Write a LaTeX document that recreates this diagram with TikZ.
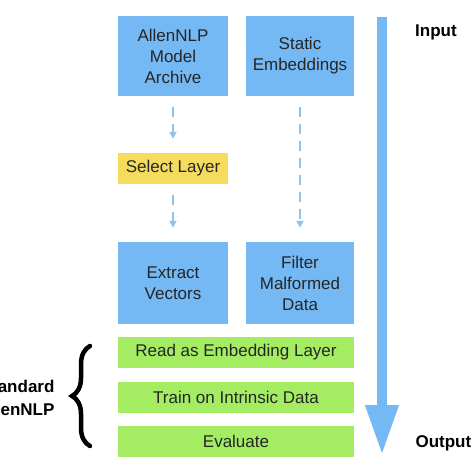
\documentclass[tikz,border=0pt]{standalone}
\usepackage{fontspec}
\setmainfont{Liberation Sans}
\usetikzlibrary{arrows.meta,decorations.pathreplacing}
\definecolor{boxblue}{HTML}{74B8F4}
\definecolor{boxyellow}{HTML}{F5DC5C}
\definecolor{boxgreen}{HTML}{A4EC62}
\definecolor{dashblue}{HTML}{8EC4EE}

\begin{document}
\begin{tikzpicture}[x=1pt, y=-1pt,
  every node/.style = {align=center, font=\fontsize{17}{21}\selectfont, text=black!85},
  stage/.style = {fill=boxblue, inner sep=0pt, minimum height=80pt},
  pick/.style = {fill=boxyellow, inner sep=0pt, minimum width=110pt, minimum height=31pt},
  stdstep/.style = {fill=boxgreen, inner sep=0pt, minimum width=236pt, minimum height=31pt},
  flow/.style = {dashblue, line width=1.8pt, dash pattern=on 10pt off 7pt,
    -{Triangle[width=7pt,length=7pt]}, shorten <=11pt, shorten >=14pt},
  tag/.style = {font=\fontsize{17}{23}\selectfont\bfseries, text=black}]
\useasboundingbox (0,0) rectangle (474,474);
%\footnotesize

\node[stage, minimum width=110pt] (archive) at (173,56) {AllenNLP\\Model\\Archive};
\node[stage, minimum width=108pt] (static) at (300,56) {Static\\Embeddings};
\node[pick] (select) at (173,168.5) {Select Layer};
\node[stage, minimum width=110pt, minimum height=82pt] (extract) at (173,283) {Extract\\Vectors};
\node[stage, minimum width=108pt, minimum height=82pt] (filter) at (300,283) {Filter\\Malformed\\Data};
\node[stdstep] (read) at (236,352.5) {Read as Embedding Layer};
\node[stdstep] (train) at (236,397.5) {Train on Intrinsic Data};
\node[stdstep] (evaluate) at (236,441.5) {Evaluate};

\draw[flow] (archive) -- (select);
\draw[flow] (select) -- (extract);
\draw[flow] (static) -- (filter);

% big time arrow
\coordinate (flowtop) at (382,17);
\coordinate (flowend) at (382,455);
\draw[boxblue, line width=10pt, -{Triangle[width=31pt,length=50pt]}] (flowtop) -- (flowend);
\node[tag] (input) at (436,32) {Input};
\node[tag, anchor=west] (output) at (412,443) {Output};

% brace round the standard steps
\coordinate (bracelow) at (90,446);
\coordinate (bracehigh) at (90,346);
\draw[line width=4.5pt, line cap=round, decorate, decoration={brace, amplitude=18pt}] (bracelow) -- (bracehigh);
\node[tag, align=right, anchor=east] (standard) at (58,398) {Standard\\AllenNLP};
\end{tikzpicture}
\end{document}
